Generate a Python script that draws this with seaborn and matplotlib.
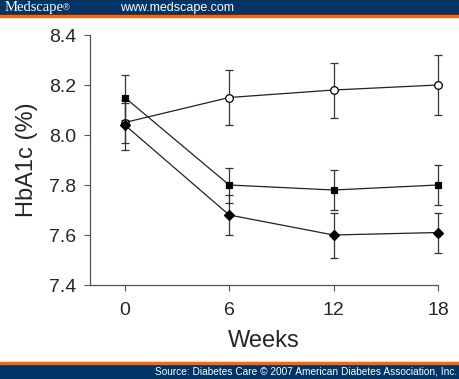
import matplotlib

matplotlib.use("Agg")
import matplotlib.pyplot as plt
import pandas as pd
import seaborn as sns

# data
weeks = [0, 6, 12, 18]
open_circle_mean = [8.05, 8.15, 8.18, 8.20]
open_circle_err = [0.08, 0.11, 0.11, 0.12]
square_mean = [8.15, 7.80, 7.78, 7.80]
square_err = [0.09, 0.07, 0.08, 0.08]
diamond_mean = [8.04, 7.68, 7.60, 7.61]
diamond_err = [0.10, 0.08, 0.09, 0.08]

y_ticks = [7.4, 7.6, 7.8, 8.0, 8.2, 8.4]

series = [
    ("circle", open_circle_mean, open_circle_err, "o", "white", 5.5),
    ("square", square_mean, square_err, "s", "black", 5.0),
    ("diamond", diamond_mean, diamond_err, "D", "black", 4.8),
]

sns.set_style("ticks")
plt.rcParams["font.family"] = ["Liberation Sans", "DejaVu Sans"]

fig = plt.figure(figsize=(4.6, 3.79), dpi=100)
ax = fig.add_axes([90 / 460, 94 / 379, 348 / 460, 250 / 379])

for i, (name, mean, err, marker, face, size) in enumerate(series):
    df = pd.DataFrame({"week": weeks, "hba1c": mean})
    ax.errorbar(weeks, mean, yerr=err, fmt="none", ecolor="#333333",
                elinewidth=0.9, capsize=3.2, capthick=0.9, clip_on=False, zorder=2)
    sns.lineplot(data=df, x="week", y="hba1c", ax=ax, color="#222222",
                 linewidth=0.9, marker=marker, markersize=size,
                 markerfacecolor=face, markeredgecolor="black",
                 markeredgewidth=0.9, clip_on=False, zorder=3 + i)

ax.set_xlim(-2, 18)
ax.set_ylim(7.4, 8.4)
ax.set_xticks(weeks)
ax.set_yticks(y_ticks)
ax.set_yticklabels([f"{v:.1f}" for v in y_ticks])
ax.tick_params(axis="both", labelsize=14, length=4, width=0.8,
               color="#555555", pad=8)
ax.tick_params(axis="y", pad=6)
for side in ("left", "bottom"):
    ax.spines[side].set_color("#555555")
    ax.spines[side].set_linewidth(0.9)
sns.despine(ax=ax)
ax.set_xlabel("Weeks", fontsize=17, labelpad=8)
ax.set_ylabel("HbA1c (%)", fontsize=17, labelpad=8)

# medscape header and footer bars
blue = "#003366"
orange = "#ff6600"
fig.patches.append(plt.Rectangle((0, 1 - 15 / 379), 1, 15 / 379,
                                 transform=fig.transFigure, color=blue, zorder=0))
fig.patches.append(plt.Rectangle((0, 1 - 17 / 379), 1, 2 / 379,
                                 transform=fig.transFigure, color=orange, zorder=0))
fig.patches.append(plt.Rectangle((0, 0), 1, 15 / 379,
                                 transform=fig.transFigure, color=blue, zorder=0))
fig.patches.append(plt.Rectangle((0, 15 / 379), 1, 2 / 379,
                                 transform=fig.transFigure, color=orange, zorder=0))

fig.text(5 / 460, 1 - 7.5 / 379, "Medscape", color="white", fontsize=10.5,
         family=["Liberation Serif", "DejaVu Serif"], va="center", ha="left")
fig.text(63 / 460, 1 - 8 / 379, "®", color="white", fontsize=6.5,
         va="center", ha="left")
fig.text(120 / 460, 1 - 7.5 / 379, "www.medscape.com", color="white",
         fontsize=9, va="center", ha="left")
fig.text(457 / 460, 7.5 / 379,
         "Source: Diabetes Care © 2007 American Diabetes Association, Inc.",
         color="white", fontsize=7.3, va="center", ha="right")

fig.savefig("out.png", dpi=100, facecolor="white")
plt.close(fig)
